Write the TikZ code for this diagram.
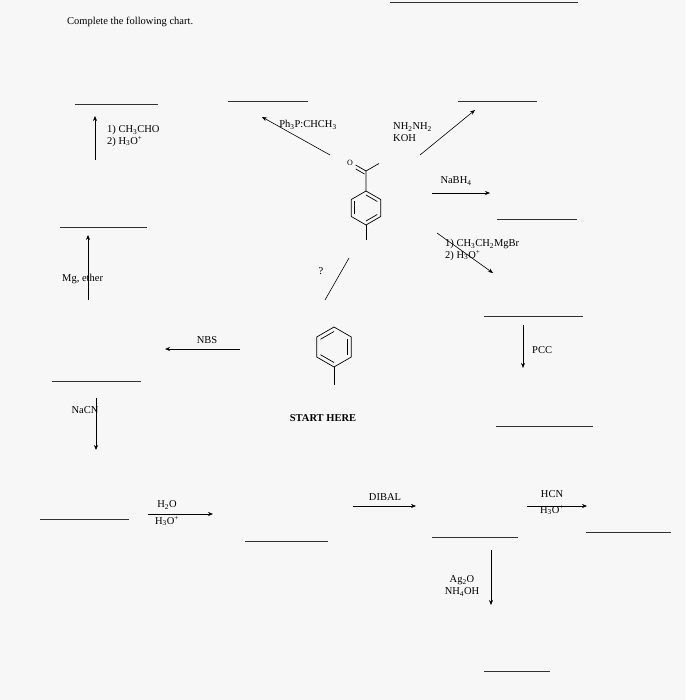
\documentclass[tikz,border=0pt]{standalone}
\usepackage{fontspec}
\setmainfont{Liberation Serif}
\usetikzlibrary{arrows.meta,calc}
\begin{document}
\begin{tikzpicture}[x=1pt,y=-1pt,
  blank/.style={line width=0.6pt,black!80},
  rxn/.style={line width=0.6pt,-{Stealth[length=5pt,width=4pt]}},
  lbl/.style={font=\fontsize{10.5}{11.5}\selectfont,inner sep=0pt,align=left},
  bond/.style={line width=0.7pt}]
\useasboundingbox (0,0) rectangle (685,700);
\fill[white!94!gray] (0,0) rectangle (685,700);
\def\sb#1{\textsubscript{#1}}
\node[lbl,anchor=west] (title) at (67,22) {Complete the following chart.};
% blanks
\foreach \xa/\xb/\yy [count=\i] in {75/158/104,228/308/101,458/537/101,497/577/219,60/147/227,484/583/316,52/141/381,496/593/426,40/129/519,245/328/541,432/518/537,586/671/532,484/550/671,390/578/2}
  {\coordinate (ba\i) at (\xa,\yy); \coordinate (bb\i) at (\xb,\yy); \draw[blank] (ba\i) -- (bb\i);}
% left column
\coordinate (a1) at (95,160); \coordinate (a2) at (95,116);
\draw[rxn] (a1) -- (a2);
\node[lbl,anchor=west] (l1) at (107,136) {1) CH\sb{3}CHO\\2) H\sb{3}O\textsuperscript{+}};
\coordinate (m1) at (88,300); \coordinate (m2) at (88,235);
\draw[rxn] (m1) -- (m2);
\node[lbl,anchor=west] (l2) at (62,279) {Mg, ether};
\coordinate (n1) at (240,349); \coordinate (n2) at (165,349);
\draw[rxn] (n1) -- (n2);
\node[lbl] (l3) at (207,340) {NBS};
\coordinate (c1) at (96,398); \coordinate (c2) at (96,450);
\draw[rxn] (c1) -- (c2);
\node[lbl] (l4) at (85,410) {NaCN};
\coordinate (h1) at (148,514); \coordinate (h2) at (213,514);
\draw[rxn] (h1) -- (h2);
\node[lbl] (l5) at (167,505) {H\sb{2}O};
\node[lbl] (l6) at (167,521) {H\sb{3}O\textsuperscript{+}};
% bottom/right
\coordinate (d1) at (353,506); \coordinate (d2) at (416,506);
\draw[rxn] (d1) -- (d2);
\node[lbl] (l7) at (385,497) {DIBAL};
\coordinate (k1) at (527,506); \coordinate (k2) at (587,506);
\draw[rxn] (k1) -- (k2);
\node[lbl] (l8) at (552,494) {HCN};
\node[lbl] (l9) at (552,510) {H\sb{3}O\textsuperscript{+}};
\coordinate (g1) at (491,550); \coordinate (g2) at (491,605);
\draw[rxn] (g1) -- (g2);
\node[lbl,align=center] (l10) at (462,586) {Ag\sb{2}O\\NH\sb{4}OH};
\coordinate (p1) at (523,325); \coordinate (p2) at (523,368);
\draw[rxn] (p1) -- (p2);
\node[lbl,anchor=west] (l11) at (532,350) {PCC};
\coordinate (s1) at (432,193); \coordinate (s2) at (490,193);
\draw[rxn] (s1) -- (s2);
\node[lbl] (l12) at (456,181) {NaBH\sb{4}};
\coordinate (e1) at (437,233); \coordinate (e2) at (493,273);
\draw[rxn] (e1) -- (e2);
\node[lbl,anchor=west] (l13) at (445,250) {1) CH\sb{3}CH\sb{2}MgBr\\2) H\sb{3}O\textsuperscript{+}};
\coordinate (w1) at (420,155); \coordinate (w2) at (475,110);
\draw[rxn] (w1) -- (w2);
\node[lbl,anchor=west] (l14) at (393,132) {NH\sb{2}NH\sb{2}\\KOH};
\coordinate (t1) at (330,155); \coordinate (t2) at (262,117);
\draw[rxn] (t1) -- (t2);
\node[lbl] (l15) at (308,125) {Ph\sb{3}P:CHCH\sb{3}};
\coordinate (q1) at (325,300); \coordinate (q2) at (349,258);
\draw[line width=0.6pt] (q1) -- (q2);
\node[lbl] (l16) at (321,271) {?};
\node[lbl,font=\fontsize{10.5}{11.5}\selectfont\bfseries] (start) at (323,418) {START HERE};
% toluene
\coordinate (tc) at (334,347);
\draw[bond] (tc) ++(90:20) -- ++(-30:20) -- ++(-90:20) -- ++(-150:20) -- ++(150:20) -- ++(90:20) -- cycle;
\foreach \a in {90,210,330}{\draw[bond] ($(tc)+(\a:15.5)$) -- ($(tc)+(\a+60:15.5)$);}
\draw[bond] (tc) ++(0,20) -- ++(0,18);
% acetophenone
\coordinate (ac) at (366,208);
\draw[bond] (ac) ++(90:17) -- ++(-30:17) -- ++(-90:17) -- ++(-150:17) -- ++(150:17) -- ++(90:17) -- cycle;
\foreach \a in {150,270,390}{\draw[bond] ($(ac)+(\a:13)$) -- ($(ac)+(\a+60:13)$);}
\draw[bond] (ac) ++(0,17) -- ++(0,15);
\draw[bond] (ac) ++(0,-17) -- ++(0,-20) coordinate (cc) -- ++(-30:15);
\draw[bond] (cc) -- ++(-150:12);
\draw[bond] (cc) ++(-1.5,3) -- ++(-150:10);
\node[lbl,font=\fontsize{8}{9}\selectfont] (ox) at (350,163) {O};
\end{tikzpicture}
\end{document}
